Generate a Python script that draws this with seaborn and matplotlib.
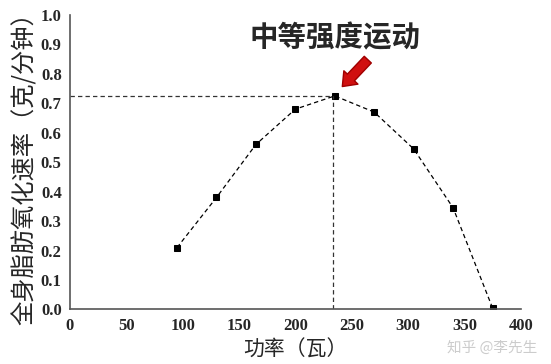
import numpy as np
import pandas as pd
import seaborn as sns
import matplotlib.pyplot as plt

power = [95, 130, 165, 200, 235, 270, 305, 340, 375]
fat_rate = [0.21, 0.38, 0.56, 0.68, 0.725, 0.67, 0.545, 0.345, 0.005]
peak_power = 233
peak_rate = 0.725
x_ticks = [0, 50, 100, 150, 200, 250, 300, 350, 400]
y_ticks = [0.0, 0.1, 0.2, 0.3, 0.4, 0.5, 0.6, 0.7, 0.8, 0.9, 1.0]

sns.set_style('white')
plt.rcParams['font.family'] = ['Noto Sans CJK SC', 'DejaVu Sans']

df = pd.DataFrame({'power': power, 'rate': fat_rate})

fig = plt.figure(figsize=(5.51, 3.64), dpi=100)
ax = fig.add_axes([0.127, 0.15, 0.818, 0.809])

sns.lineplot(data=df, x='power', y='rate', ax=ax, color='black', linestyle=(0, (3.5, 2.5)),
             linewidth=0.9, marker='s', markersize=5, markeredgecolor='black', markerfacecolor='black')

# reference lines to the peak
ax.plot([0, peak_power], [peak_rate, peak_rate], color='#333333', linestyle=(0, (3.5, 2.5)), linewidth=0.9)
ax.plot([peak_power, peak_power], [0, peak_rate], color='#333333', linestyle=(0, (3.5, 2.5)), linewidth=0.9)

ax.set_xlim(0, 400)
ax.set_ylim(0, 1.0)
ax.set_xticks(x_ticks)
ax.set_yticks(y_ticks)
ax.set_xticklabels([str(t) for t in x_ticks], family='Liberation Serif', fontweight='bold', fontsize=12)
ax.set_yticklabels([f'{t:.1f}' for t in y_ticks], family='Liberation Serif', fontweight='bold', fontsize=12)
ax.tick_params(axis='both', direction='out', length=4, width=1, color='#555555', pad=2)

for s in ['top', 'right']:
    ax.spines[s].set_visible(False)
for s in ['left', 'bottom']:
    ax.spines[s].set_color('#555555')
    ax.spines[s].set_linewidth(1.2)

ax.set_xlabel('功率（瓦）', fontsize=15, labelpad=0)
ax.xaxis.set_label_coords(0.5, -0.098)
ax.xaxis.label.set_va('top')
ax.set_ylabel('全身脂肪氧化速率（克/分钟）', fontsize=17.5, labelpad=2)

fig.text(0.452, 0.895, '中等强度运动', fontsize=20.5, fontweight='black', ha='left', va='center')

ax.annotate('', xy=(240, 0.75), xytext=(266, 0.855),
            arrowprops=dict(arrowstyle='simple,head_width=1.4,head_length=0.9,tail_width=0.7',
                            color='#d01010', ec='#a00000'))

fig.text(0.975, 0.045, '知乎 @李先生', fontsize=10.5, color='#cccccc', ha='right', va='center')

fig.savefig('out.png', dpi=100)
